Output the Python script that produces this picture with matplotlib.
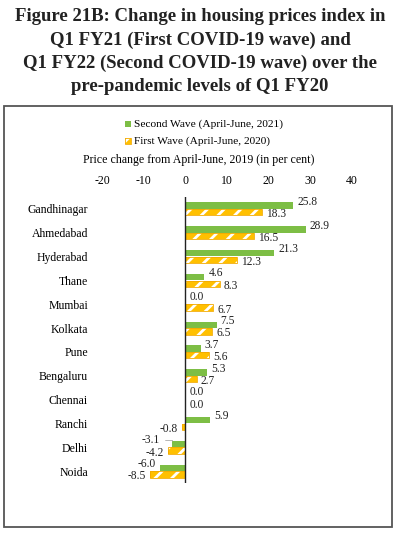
import matplotlib
matplotlib.use("Agg")
import matplotlib.pyplot as plt
from matplotlib.patches import Rectangle
import numpy as np

# data
cities = ["Gandhinagar", "Ahmedabad", "Hyderabad", "Thane", "Mumbai", "Kolkata",
          "Pune", "Bengaluru", "Chennai", "Ranchi", "Delhi", "Noida"]
second_wave = [25.8, 28.9, 21.3, 4.6, 0.0, 7.5, 3.7, 5.3, 0.0, 5.9, -3.1, -6.0]
first_wave = [18.3, 16.5, 12.3, 8.3, 6.7, 6.5, 5.6, 2.7, 0.0, -0.8, -4.2, -8.5]
x_ticks = [-20, -10, 0, 10, 20, 30, 40]

title = ("Figure 21B: Change in housing prices index in\n"
         "Q1 FY21 (First COVID-19 wave) and\n"
         "Q1 FY22 (Second COVID-19 wave) over the\n"
         "pre-pandemic levels of Q1 FY20")
label_2nd = "Second Wave (April-June, 2021)"
label_1st = "First Wave (April-June, 2020)"
axis_title = "Price change from April-June, 2019 (in per cent)"

GREEN = "#7DBE45"
ORANGE = "#FFC000"
ORANGE_EDGE = "#F2A900"

plt.rcParams["font.family"] = ["Liberation Serif", "DejaVu Serif"]
plt.rcParams["hatch.linewidth"] = 2.0

W, H = 400, 537
fig = plt.figure(figsize=(W / 100, H / 100), dpi=100)

def fx(px):
    return px / W

def fy(py):
    return 1 - py / H

# title
fig.text(0.5, fy(8), title, ha="center", va="top", fontsize=13.5,
         fontweight="bold", linespacing=1.47, color="#222222")

# outer box
fig.patches.append(Rectangle((fx(4), fy(527)), fx(388), 421 / H, transform=fig.transFigure,
                             fill=False, edgecolor="#555555", linewidth=1.3))

# legend
s = 6
fig.patches.append(Rectangle((fx(125), fy(127)), fx(s), s / H, transform=fig.transFigure,
                             facecolor=GREEN, edgecolor="none"))
fig.text(fx(134), fy(124), label_2nd, ha="left", va="center", fontsize=8.2)
fig.patches.append(Rectangle((fx(125), fy(144)), fx(s), s / H, transform=fig.transFigure,
                             facecolor=ORANGE, edgecolor="white", hatch="//", linewidth=0))
fig.patches.append(Rectangle((fx(125), fy(144)), fx(s), s / H, transform=fig.transFigure,
                             fill=False, edgecolor=ORANGE_EDGE, linewidth=0.6))
fig.text(fx(134), fy(141), label_1st, ha="left", va="center", fontsize=8.2)

fig.text(fx(199), fy(160), axis_title, ha="center", va="center", fontsize=8.6)

# axes
ax = fig.add_axes([fx(102), fy(483), fx(250), 286 / H])
y = np.arange(len(cities))
h = 0.27
ax.barh(y - 0.14, second_wave, height=h, color=GREEN, edgecolor="none", zorder=2)
ax.barh(y + 0.14, first_wave, height=h, color=ORANGE, edgecolor="white",
        hatch="//", linewidth=0, zorder=2)
ax.barh(y + 0.14, first_wave, height=h, fill=False, edgecolor=ORANGE_EDGE,
        linewidth=0.6, zorder=3)

ax.set_xlim(-20, 40)
ax.set_ylim(len(cities) - 0.5, -0.5)
ax.axvline(0, color="#222222", linewidth=1.0, zorder=4)
for sp in ax.spines.values():
    sp.set_visible(False)

ax.xaxis.tick_top()
ax.set_xticks(x_ticks)
ax.set_xticklabels([str(t) for t in x_ticks])
ax.tick_params(axis="x", length=0, pad=7, labelsize=8.5)
ax.set_yticks(y)
ax.set_yticklabels(cities)
ax.tick_params(axis="y", length=0, pad=10, labelsize=8.5)

# value labels
for i in range(len(cities)):
    for val, dy, off in ((second_wave[i], -0.14, 2.8), (first_wave[i], 0.14, -1.4)):
        dx = 3 if val >= 0 else -3
        ha = "left" if val >= 0 else "right"
        if cities[i] == "Delhi" and dy < 0:
            ax.annotate(f"{val:.1f}", xy=(val, i + dy), xytext=(-9, off),
                        textcoords="offset points", ha="right", va="center",
                        fontsize=8.3, color="#222222",
                        arrowprops=dict(arrowstyle="-", color="#999999", lw=0.5,
                                        connectionstyle="angle,angleA=0,angleB=90"))
            continue
        ax.annotate(f"{val:.1f}", xy=(val, i + dy), xytext=(dx, off),
                    textcoords="offset points", ha=ha, va="center",
                    fontsize=8.3, color="#222222")

fig.savefig("out.png", dpi=100)
